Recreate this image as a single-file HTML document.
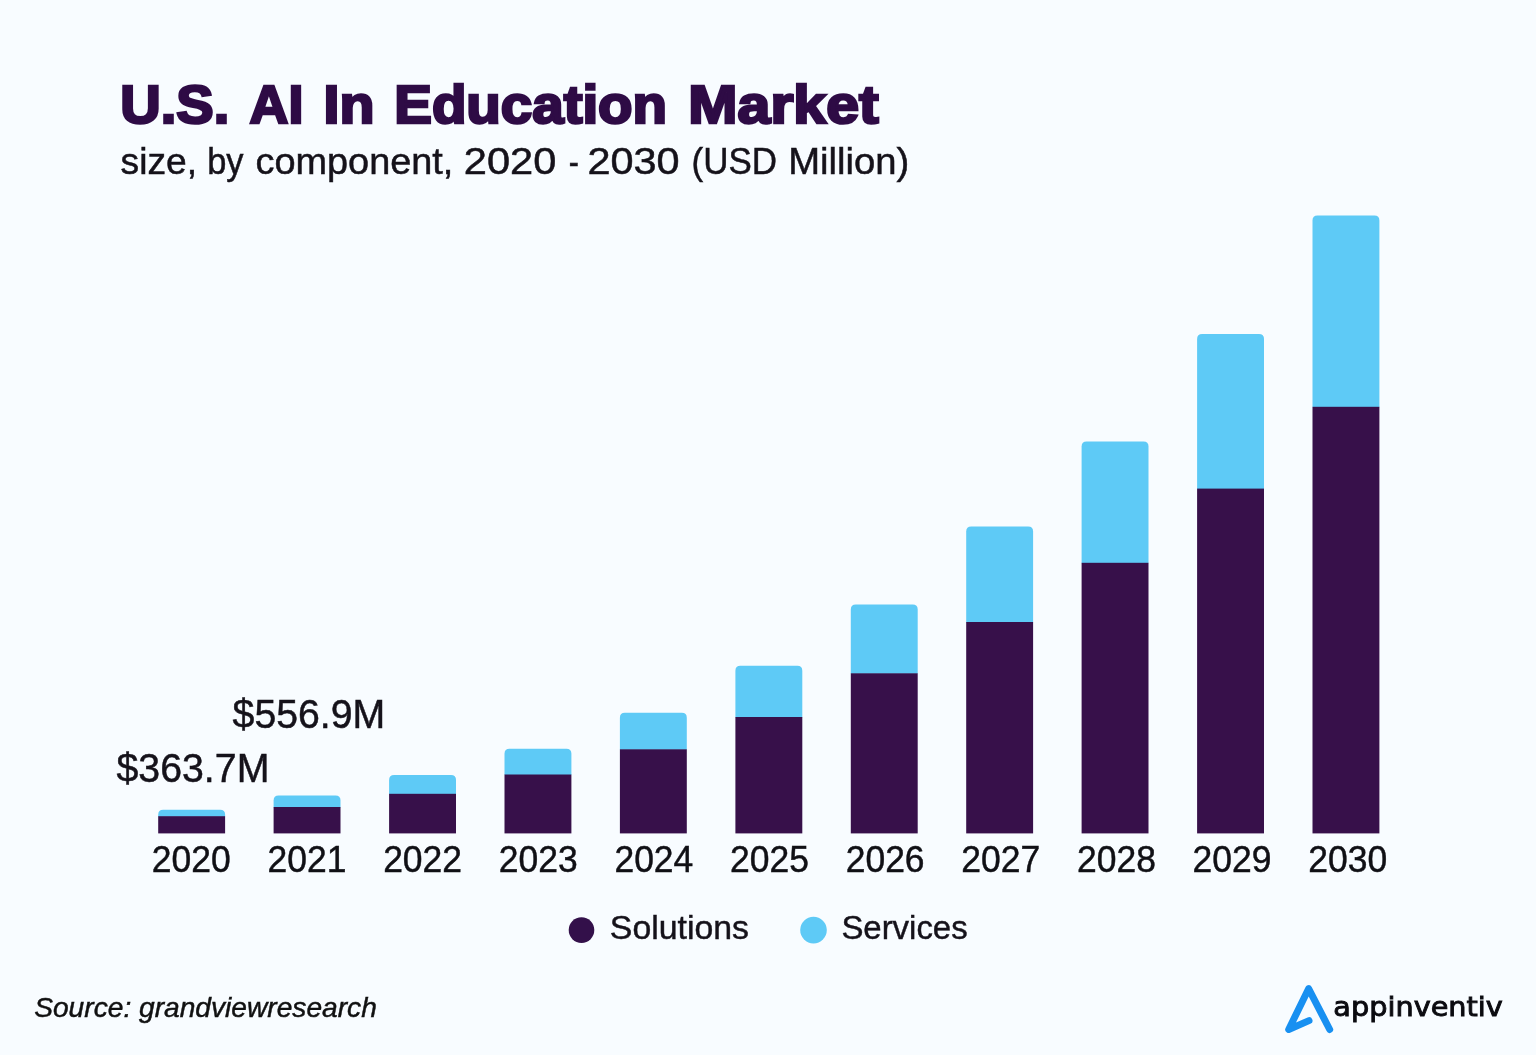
<!DOCTYPE html>
<html lang="en"><head><meta charset="utf-8"><title>U.S. AI In Education Market</title>
<style>
html,body{margin:0;padding:0;background:#f8fcff;}
body{width:1536px;height:1055px;overflow:hidden;position:relative;font-family:"Liberation Sans",sans-serif;}
svg{position:absolute;left:0;top:0;display:block}
text{font-family:"Liberation Sans",sans-serif;fill:#111;white-space:pre}
.title{font-weight:700;font-size:53.6px;fill:#2e0b45;stroke:#2e0b45;stroke-width:2.6px;stroke-linejoin:miter;stroke-miterlimit:3}
.sub{font-size:37.6px;fill:#15121a;stroke:#15121a;stroke-width:.5px}
.yr{font-size:36px;fill:#101015;stroke:#101015;stroke-width:.45px}
.val{font-size:41.2px;fill:#15121a;stroke:#15121a;stroke-width:.5px}
.leg{font-size:34px;fill:#15121a;stroke:#15121a;stroke-width:.45px}
.src{font-size:27.4px;font-style:italic;fill:#111;stroke:#111;stroke-width:.45px}
.logo{font-family:"DejaVu Sans","Liberation Sans",sans-serif;font-size:26.4px;fill:#0b0b10;stroke:#0b0b10;stroke-width:.9px}
</style></head><body>
<svg width="1536" height="1055" viewBox="0 0 1536 1055">
<rect width="1536" height="1055" fill="#f8fcff"/>
<path d="M158.2 816.7V814.8Q158.2 809.8 163.2 809.8H220.1Q225.1 809.8 225.1 814.8V816.7Z" fill="#5ecaf6"/>
<rect x="158.2" y="816.2" width="66.9" height="17.2" fill="#37104a"/>
<path d="M273.6 807.5V800.6Q273.6 795.6 278.6 795.6H335.5Q340.5 795.6 340.5 800.6V807.5Z" fill="#5ecaf6"/>
<rect x="273.6" y="807.0" width="66.9" height="26.4" fill="#37104a"/>
<path d="M389.1 794.3V780.0Q389.1 775.0 394.1 775.0H451.0Q456.0 775.0 456.0 780.0V794.3Z" fill="#5ecaf6"/>
<rect x="389.1" y="793.8" width="66.9" height="39.6" fill="#37104a"/>
<path d="M504.5 775.0V753.7Q504.5 748.7 509.5 748.7H566.4Q571.4 748.7 571.4 753.7V775.0Z" fill="#5ecaf6"/>
<rect x="504.5" y="774.5" width="66.9" height="58.9" fill="#37104a"/>
<path d="M619.9 749.8V717.8Q619.9 712.8 624.9 712.8H681.8Q686.8 712.8 686.8 717.8V749.8Z" fill="#5ecaf6"/>
<rect x="619.9" y="749.3" width="66.9" height="84.1" fill="#37104a"/>
<path d="M735.4 717.5V670.8Q735.4 665.8 740.4 665.8H797.3Q802.3 665.8 802.3 670.8V717.5Z" fill="#5ecaf6"/>
<rect x="735.4" y="717.0" width="66.9" height="116.4" fill="#37104a"/>
<path d="M850.8 673.8V609.4Q850.8 604.4 855.8 604.4H912.7Q917.7 604.4 917.7 609.4V673.8Z" fill="#5ecaf6"/>
<rect x="850.8" y="673.3" width="66.9" height="160.1" fill="#37104a"/>
<path d="M966.2 622.5V531.5Q966.2 526.5 971.2 526.5H1028.1Q1033.1 526.5 1033.1 531.5V622.5Z" fill="#5ecaf6"/>
<rect x="966.2" y="622.0" width="66.9" height="211.4" fill="#37104a"/>
<path d="M1081.6 563.3V446.5Q1081.6 441.5 1086.6 441.5H1143.5Q1148.5 441.5 1148.5 446.5V563.3Z" fill="#5ecaf6"/>
<rect x="1081.6" y="562.8" width="66.9" height="270.6" fill="#37104a"/>
<path d="M1197.1 489.1V338.9Q1197.1 333.9 1202.1 333.9H1259.0Q1264.0 333.9 1264.0 338.9V489.1Z" fill="#5ecaf6"/>
<rect x="1197.1" y="488.6" width="66.9" height="344.8" fill="#37104a"/>
<path d="M1312.5 407.3V220.4Q1312.5 215.4 1317.5 215.4H1374.4Q1379.4 215.4 1379.4 220.4V407.3Z" fill="#5ecaf6"/>
<rect x="1312.5" y="406.8" width="66.9" height="426.6" fill="#37104a"/>
<text class="title" y="122.8"><tspan x="120.16" textLength="109.06" lengthAdjust="spacingAndGlyphs">U.S.</tspan> <tspan x="249.60" textLength="53.81" lengthAdjust="spacingAndGlyphs">AI</tspan> <tspan x="323.59" textLength="50.94" lengthAdjust="spacingAndGlyphs">In</tspan> <tspan x="394.24" textLength="272.84" lengthAdjust="spacingAndGlyphs">Education</tspan> <tspan x="688.39" textLength="190.34" lengthAdjust="spacingAndGlyphs">Market</tspan></text>
<text class="sub" y="173.7"><tspan x="120.56" textLength="76.51" lengthAdjust="spacingAndGlyphs">size,</tspan> <tspan x="207.22" textLength="36.34" lengthAdjust="spacingAndGlyphs">by</tspan> <tspan x="255.54" textLength="197.87" lengthAdjust="spacingAndGlyphs">component,</tspan> <tspan x="463.74" textLength="92.60" lengthAdjust="spacingAndGlyphs">2020</tspan> <tspan x="568.74" textLength="10.14" lengthAdjust="spacingAndGlyphs">-</tspan> <tspan x="587.45" textLength="92.19" lengthAdjust="spacingAndGlyphs">2030</tspan> <tspan x="691.59" textLength="85.42" lengthAdjust="spacingAndGlyphs">(USD</tspan> <tspan x="788.20" textLength="121.09" lengthAdjust="spacingAndGlyphs">Million)</tspan></text>
<text class="yr" x="151.86" y="872.3" textLength="78.89" lengthAdjust="spacingAndGlyphs">2020</text>
<text class="yr" x="267.50" y="872.3" textLength="78.89" lengthAdjust="spacingAndGlyphs">2021</text>
<text class="yr" x="383.14" y="872.3" textLength="78.89" lengthAdjust="spacingAndGlyphs">2022</text>
<text class="yr" x="498.78" y="872.3" textLength="78.89" lengthAdjust="spacingAndGlyphs">2023</text>
<text class="yr" x="614.42" y="872.3" textLength="78.89" lengthAdjust="spacingAndGlyphs">2024</text>
<text class="yr" x="730.06" y="872.3" textLength="78.89" lengthAdjust="spacingAndGlyphs">2025</text>
<text class="yr" x="845.70" y="872.3" textLength="78.89" lengthAdjust="spacingAndGlyphs">2026</text>
<text class="yr" x="961.34" y="872.3" textLength="78.89" lengthAdjust="spacingAndGlyphs">2027</text>
<text class="yr" x="1076.98" y="872.3" textLength="78.89" lengthAdjust="spacingAndGlyphs">2028</text>
<text class="yr" x="1192.62" y="872.3" textLength="78.89" lengthAdjust="spacingAndGlyphs">2029</text>
<text class="yr" x="1308.26" y="872.3" textLength="78.89" lengthAdjust="spacingAndGlyphs">2030</text>
<text class="val" x="116.45" y="781.8" textLength="152.96" lengthAdjust="spacingAndGlyphs">$363.7M</text>
<text class="val" x="232.55" y="727.5" textLength="152.75" lengthAdjust="spacingAndGlyphs">$556.9M</text>
<text class="leg" x="609.85" y="939.4" textLength="139.19" lengthAdjust="spacingAndGlyphs">Solutions</text>
<text class="leg" x="841.38" y="939.4" textLength="126.24" lengthAdjust="spacingAndGlyphs">Services</text>
<text class="src" x="34.20" y="1016.5" textLength="342.67" lengthAdjust="spacingAndGlyphs">Source: grandviewresearch</text>
<text class="logo" x="1333.36" y="1016.3" textLength="169.46" lengthAdjust="spacingAndGlyphs">appinventiv</text>
<circle cx="581.5" cy="930.1" r="12.8" fill="#33104a"/>
<circle cx="813.5" cy="930.1" r="13.3" fill="#5ecaf6"/>
<path d="M1329.7 1029.5L1308.6 988.7L1288.7 1029.5L1309 1020.6" fill="none" stroke="#1890f1" stroke-width="7" stroke-linecap="round" stroke-linejoin="round"/>
</svg>
</body></html>
